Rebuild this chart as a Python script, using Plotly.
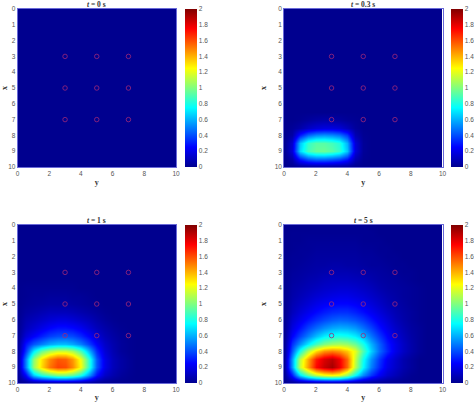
import plotly.graph_objects as go

grid_x = [0, .5, 1, 1.5, 2, 2.5, 3, 3.5, 4, 4.5, 5, 5.5, 6, 6.5, 7, 7.5, 8, 8.5, 9, 9.5, 10]
grid_y = grid_x
Z0 = [0] * 21
def r(*v):
    return list(v) + [0] * (21 - len(v))

t0 = [Z0 for _ in grid_x]
t03 = [Z0] * 14 + [
    r(0, 0, .01, .03, .05, .06, .05, .04, .02, .01),
    r(0, .02, .06, .12, .16, .18, .18, .16, .1, .03),
    r(0, .05, .3, .45, .52, .54, .52, .48, .36, .08, .01),
    r(0, .14, .64, .85, .92, .92, .88, .82, .6, .16, .02),
    r(0, .16, .68, .88, .95, .96, .92, .85, .64, .17, .02),
    r(0, .06, .3, .42, .47, .47, .44, .4, .3, .08, .01),
    Z0,
]
t1 = [Z0] * 8 + [
    r(0, .01, .01, .01, .01, .01, .01, .01),
    r(0, .01, .02, .02, .03, .03, .03, .02, .02, .01),
    r(0, .02, .03, .04, .05, .05, .05, .04, .03, .02, .01),
    r(0, .04, .06, .08, .1, .1, .1, .09, .07, .05, .03, .01),
    r(0, .07, .1, .13, .16, .18, .18, .16, .13, .1, .06, .03, .01),
    r(0, .1, .15, .2, .25, .28, .28, .26, .22, .16, .1, .06, .03, .01),
    r(0, .16, .24, .31, .37, .4, .41, .39, .33, .25, .16, .09, .05, .02, .01),
    r(0, .28, .42, .5, .58, .62, .62, .58, .5, .38, .24, .13, .07, .03, .01),
    r(0, .35, .72, .95, 1.08, 1.15, 1.15, 1.08, .9, .62, .33, .16, .08, .03, .01),
    r(0, .5, 1.02, 1.3, 1.48, 1.58, 1.56, 1.45, 1.22, .85, .42, .2, .1, .05, .02),
    r(0, .5, 1.05, 1.32, 1.52, 1.62, 1.6, 1.48, 1.25, .85, .42, .2, .1, .05, .02),
    r(0, .25, .65, .82, .92, 1, 1, .94, .8, .56, .28, .13, .07, .03, .01),
    Z0,
]
t5 = [
    r(0, 0, 0, 0, .01, .01, .01, .01, .01, .01, .01),
    r(0, .01, .01, .01, .01, .01, .01, .01, .01, .01, .01, .01),
    r(0, .01, .01, .02, .02, .02, .02, .02, .02, .02, .01, .01, .01),
    r(0, .01, .02, .02, .03, .03, .03, .03, .03, .03, .02, .02, .01, .01),
    r(0, .02, .02, .03, .04, .04, .04, .04, .04, .04, .03, .03, .02, .01, .01),
    r(0, .02, .03, .04, .05, .05, .06, .06, .05, .05, .04, .03, .03, .02, .01, .01),
    r(0, .03, .04, .05, .06, .07, .08, .08, .08, .07, .06, .05, .04, .03, .02, .01, .01),
    r(0, .04, .05, .07, .08, .1, .11, .11, .11, .1, .09, .07, .05, .04, .03, .02, .01),
    r(0, .05, .07, .09, .11, .13, .14, .15, .15, .14, .12, .1, .07, .05, .04, .03, .02, .01),
    r(0, .06, .09, .12, .15, .17, .19, .2, .2, .18, .16, .13, .1, .07, .05, .03, .02, .01),
    r(0, .08, .12, .16, .2, .23, .25, .26, .26, .24, .21, .17, .13, .09, .06, .04, .02, .01),
    r(0, .1, .16, .21, .26, .3, .33, .34, .34, .31, .27, .22, .17, .12, .08, .05, .03, .01),
    r(0, .14, .21, .28, .34, .39, .43, .45, .44, .41, .36, .29, .22, .16, .1, .06, .03, .01),
    r(0, .18, .28, .38, .46, .53, .58, .6, .59, .55, .47, .38, .28, .2, .13, .08, .04, .02),
    r(0, .24, .38, .5, .62, .72, .78, .8, .78, .72, .62, .48, .36, .25, .16, .1, .05, .02),
    r(0, .34, .54, .72, .88, 1.0, 1.06, 1.08, 1.05, .96, .8, .6, .44, .3, .2, .12, .06, .02),
    r(0, .42, .8, 1.1, 1.32, 1.46, 1.5, 1.46, 1.36, 1.2, .9, .66, .46, .32, .2, .12, .06, .02),
    r(0, .55, 1.12, 1.42, 1.7, 1.82, 1.88, 1.78, 1.55, 1.14, .78, .54, .36, .22, .14, .07, .03),
    r(0, .55, 1.15, 1.45, 1.74, 1.86, 1.93, 1.8, 1.55, 1.12, .75, .5, .33, .2, .13, .07, .03),
    r(0, .3, .7, .95, 1.12, 1.22, 1.26, 1.22, 1.04, .76, .52, .35, .23, .14, .09, .04, .01),
    Z0,
]
panels = [t0, t03, t1, t5]
titles = ["<i>t</i> = 0 s", "<i>t</i> = 0.3 s", "<i>t</i> = 1 s", "<i>t</i> = 5 s"]
sensor_y = [3, 5, 7, 3, 5, 7, 3, 5, 7]
sensor_x = [3, 3, 3, 5, 5, 5, 7, 7, 7]
ticks_y = [0, 2, 4, 6, 8, 10]
ticks_x = list(range(11))
cbar_ticks = [0, .2, .4, .6, .8, 1, 1.2, 1.4, 1.6, 1.8, 2]
cbar_labels = ["0", "0.2", "0.4", "0.6", "0.8", "1", "1.2", "1.4", "1.6", "1.8", "2"]

W, H = 474, 402
JET = [[0, "#00008f"], [.125, "#0000ff"], [.375, "#00ffff"], [.625, "#ffff00"], [.875, "#ff0000"], [1, "#800000"]]
TICK = dict(family="Liberation Sans", size=6.5, color="#555555")
boxes = [(17.5, 9), (284, 9), (17.5, 225), (284, 225)]
PW, PH = 158.5, 158

fig = go.Figure()
layout = {}
for i, (z, (px, py)) in enumerate(zip(panels, boxes)):
    n = "" if i == 0 else str(i + 1)
    dx = [px / W, (px + PW) / W]
    dy = [1 - (py + PH) / H, 1 - py / H]
    fig.add_trace(go.Heatmap(
        x=grid_y, y=grid_x, z=z, zmin=0, zmax=2, colorscale=JET, zsmooth="best",
        xaxis="x" + n, yaxis="y" + n, hoverinfo="skip",
        colorbar=dict(
            x=(px + PW + 8.5) / W, xanchor="left", xref="paper",
            y=dy[0], yanchor="bottom", len=PH / H, lenmode="fraction",
            thickness=12, thicknessmode="pixels", outlinewidth=0, xpad=0, ypad=0,
            tickvals=cbar_ticks, ticktext=cbar_labels, ticks="", ticklabelposition="outside",
            tickfont=TICK),
    ))
    fig.add_trace(go.Scatter(
        x=sensor_y, y=sensor_x, mode="markers", xaxis="x" + n, yaxis="y" + n,
        showlegend=False, hoverinfo="skip",
        marker=dict(symbol="circle-open", size=4.5, color="#a02878", line=dict(width=.8, color="#a02878")),
    ))
    layout["xaxis" + n] = dict(
        domain=dx, range=[0, 10], anchor="y" + n, tickvals=ticks_y, tickfont=TICK, ticks="", ticklen=0,
        showgrid=False, zeroline=False, showline=True, linecolor="#6a6ad8", linewidth=.6, mirror=True,
        title=dict(text="<b>y</b>", font=dict(family="Liberation Serif", size=8, color="#333333"), standoff=3),
    )
    layout["yaxis" + n] = dict(
        domain=dy, range=[10, 0], anchor="x" + n, tickvals=ticks_x, tickfont=TICK, ticks="", ticklen=0,
        showgrid=False, zeroline=False, showline=True, linecolor="#6a6ad8", linewidth=.6, mirror=True,
        title=dict(text="<b>x</b>", font=dict(family="Liberation Serif", size=8, color="#333333"), standoff=6),
    )
annotations = [
    dict(text="<b>%s</b>" % t, x=(px + PW / 2) / W, y=1 - (py - 4.6) / H, xref="paper", yref="paper",
         xanchor="center", yanchor="middle", showarrow=False, borderpad=0,
         font=dict(family="Liberation Serif", size=7.5, color="#333333"))
    for t, (px, py) in zip(titles, boxes)
]
fig.update_layout(width=W, height=H, margin=dict(l=0, r=0, t=0, b=0, autoexpand=False), paper_bgcolor="white",
                  plot_bgcolor="white", showlegend=False, annotations=annotations, **layout)
fig.write_html("out.html", config=dict(displayModeBar=False),
               post_script="document.body.style.margin='0';document.body.style.overflow='hidden';")
